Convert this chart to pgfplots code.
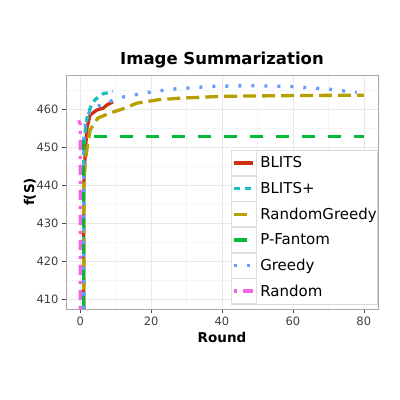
\documentclass[border=0pt]{standalone}
\usepackage{fontspec}
\setmainfont{DejaVu Sans}
\usepackage{pgfplots}
\pgfplotsset{compat=1.18}
\definecolor{cBlits}{HTML}{CC3311}
\definecolor{cBlitsP}{HTML}{1CBFC4}
\definecolor{cRG}{HTML}{B79F00}
\definecolor{cPF}{HTML}{00BA38}
\definecolor{cGr}{HTML}{619CFF}
\definecolor{cRa}{HTML}{F564E3}
\begin{document}
\begin{tikzpicture}[x=1pt,y=1pt]
\path[use as bounding box] (0,0) rectangle (400,400);
\begin{axis}[
  at={(66pt,91pt)}, anchor=south west, scale only axis,
  width=312pt, height=234pt,
  xmin=-4, xmax=84, ymin=407.45, ymax=468.9,
  xtick={0,20,...,80}, ytick={410,420,...,460},
  minor xtick={10,30,50,70}, minor ytick={415,425,...,465},
  grid=both,
  major grid style={gray!18, line width=0.6pt},
  minor grid style={gray!8, line width=0.4pt},
  axis line style={black!35, line width=0.7pt},
  tick align=outside, tick pos=left,
  major tick length=4pt, minor tick length=0pt,
  tick style={black!70, line width=0.6pt},
  ticklabel style={font=\fontsize{11.5}{12}\selectfont, text=black!75},
  /pgf/number format/assume math mode=true,
  title={Image Summarization},
  title style={font=\bfseries\fontsize{16.5}{18}\selectfont, at={(0.5,1)}, anchor=south, inner sep=0pt, yshift=1pt},
  xlabel={Round}, ylabel={f(S)},
  label style={font=\bfseries\fontsize{13.5}{15}\selectfont},
  xlabel style={at={(axis description cs:0.5,0)}, anchor=center, yshift=-28.5pt},
  ylabel style={at={(axis description cs:-0.1154,0.5)}, anchor=center},
  legend image code/.code={
    \draw[gray!25, solid, line width=0.6pt, fill=white] (0pt,-12.5pt) rectangle (25pt,12.5pt);
    \draw[#1] (3pt,0pt) -- (22pt,0pt);
  },
  legend cell align=left,
  legend style={at={(1,0.6795)}, anchor=north east, draw=gray!30, line width=0.6pt,
    inner sep=0pt, row sep=0pt, column sep=2.5pt,
    font=\fontsize{15}{18}\selectfont,
    nodes={inner sep=1pt}},
]
\addplot[cBlits, line width=3.3pt] coordinates {(1,407.5)(1,440)(1.4,448)(1.9,455)(2.8,458.4)(4.7,459.7)(6.5,460.2)(7.5,461)(9.3,461.9)};
\addlegendentry{BLITS}
\addplot[cBlitsP, line width=3.3pt, dash pattern=on 6pt off 5pt] coordinates {(1,407.5)(1,450)(1.5,455)(1.9,457.5)(3.3,461.5)(4.7,462.8)(6.5,464)(9.3,464.5)};
\addlegendentry{BLITS+}
\addplot[cRG, line width=3.3pt, dash pattern=on 13pt off 6pt] coordinates {(1,407.5)(1,440)(1.4,446)(2,450)(2.8,454.5)(3.3,455.2)(5,457.6)(8.4,458.9)(12,460)(16,461.5)(22,462.4)(28,462.8)(40,463.3)(60,463.5)(80,463.6)};
\addlegendentry{RandomGreedy}
\addplot[cPF, line width=3.3pt, dash pattern=on 13pt off 13pt] coordinates {(1,407.5)(1,452.7)(80,452.7)};
\addlegendentry{P-Fantom}
\addplot[cGr, line width=3.3pt, dash pattern=on 3pt off 10pt] coordinates {(1,407.5)(1,452)(1.5,456)(2.5,459)(4,460.5)(6,461)(8.5,462)(12,463.1)(19,464.3)(26,465.2)(37,465.9)(48,466.1)(59,465.9)(70,465.2)(78,464.3)};
\addlegendentry{Greedy}
\addplot[cRa, line width=3.3pt, dash pattern=on 3pt off 6pt on 10pt off 6pt] coordinates {(0,407.5)(0,456)(-0.4,457)};
\addlegendentry{Random}
\end{axis}
\end{tikzpicture}
\end{document}
